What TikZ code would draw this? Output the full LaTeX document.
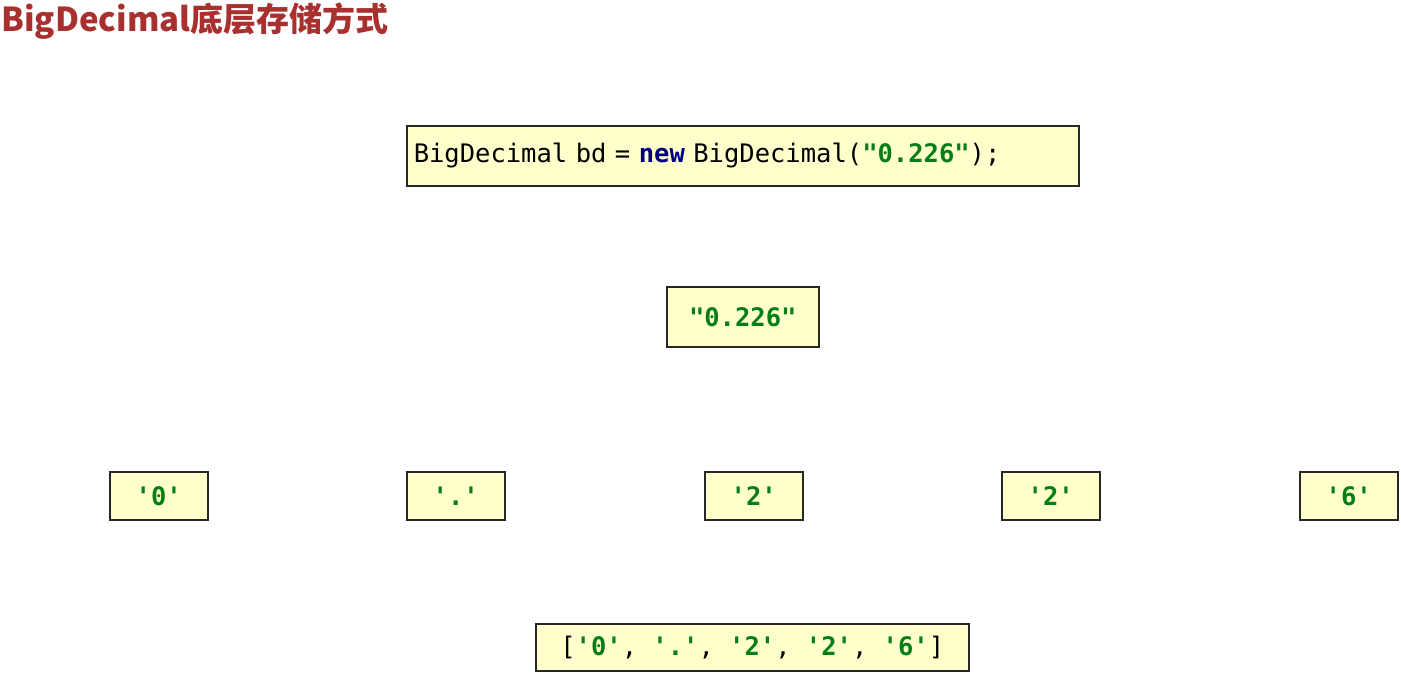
\documentclass[tikz,border=0pt]{standalone}
\usepackage{fontspec}
\setmonofont{DejaVu Sans Mono}
\newfontfamily\cjk{Noto Sans CJK SC}
\definecolor{boxfill}{HTML}{FFFFCC}
\definecolor{strgreen}{HTML}{067D17}
\definecolor{kwblue}{HTML}{000080}
\definecolor{titlered}{HTML}{A8302F}
\DeclareRobustCommand{\codefont}{\ttfamily\fontsize{25.5}{30}\selectfont\spaceskip=0.602em\relax}
\tikzset{
  cbox/.style={draw=black!85, line width=1.5pt, fill=boxfill, font=\codefont, inner sep=0pt}
}
\newcommand{\gs}[1]{\textcolor{strgreen}{\textbf{#1}}}
\begin{document}
\begin{tikzpicture}[x=1pt,y=-1pt]
\useasboundingbox (0,0) rectangle (1401,677);
\node[anchor=west, font=\cjk\bfseries\fontsize{33}{37}\selectfont, text=titlered, inner sep=0pt] (title) at (1,21) {BigDecimal底层存储方式};
\node[cbox, minimum width=672, minimum height=60, text width=658, align=left, anchor=north west] (code) at (406,125)
  {BigDecimal bd = \textcolor{kwblue}{\textbf{new}} BigDecimal(\gs{"0.226"});};
\node[cbox, minimum width=152, minimum height=60, anchor=north west] (str) at (666,286) {\gs{"0.226"}};
\foreach \x/\c/\n in {109/0/c1, 406/./c2, 704/2/c3, 1001/2/c4, 1299/6/c5}
  \node[cbox, minimum width=98, minimum height=48, anchor=north west] (\n) at (\x,471) {\gs{'\c'}};
\node[cbox, minimum width=433, minimum height=47, anchor=north west] (arr) at (535,623)
  {[\gs{'0'}, \gs{'.'}, \gs{'2'}, \gs{'2'}, \gs{'6'}]};
\end{tikzpicture}
\end{document}
